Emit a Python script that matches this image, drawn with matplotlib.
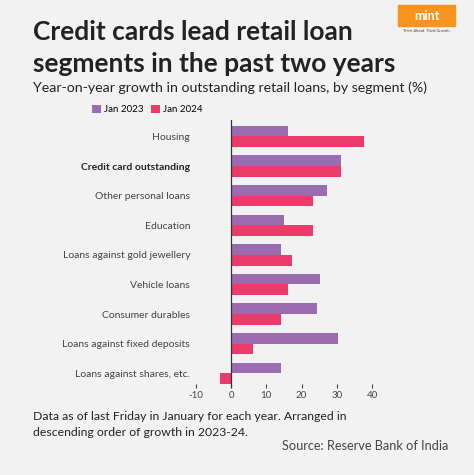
import matplotlib
matplotlib.use("Agg")
import matplotlib.pyplot as plt
import numpy as np

categories = ["Housing", "Credit card outstanding", "Other personal loans", "Education",
              "Loans against gold jewellery", "Vehicle loans", "Consumer durables",
              "Loans against fixed deposits", "Loans against shares, etc."]
jan2023 = [16.2, 31.3, 27.3, 15.1, 14.2, 25.3, 24.3, 30.4, 14.2]
jan2024 = [37.7, 31.3, 23.3, 23.3, 17.2, 16.2, 14.2, 6.2, -3.2]
xticks = [-10, 0, 10, 20, 30, 40]

bg = "#f2f2f2"
c23 = "#9b6bb0"
c24 = "#ec3a6b"
plt.rcParams['font.family'] = ['Lato', 'DejaVu Sans']
fig = plt.figure(figsize=(4.74, 4.75), dpi=100, facecolor=bg)
ax = fig.add_axes([0.413, 0.183, 0.372, 0.564], facecolor=bg)
y = np.arange(len(categories))
h = 0.36
ax.barh(y - h/2, jan2023, height=h, color=c23, label="Jan 2023")
ax.barh(y + h/2, jan2024, height=h, color=c24, label="Jan 2024")
ax.set_ylim(len(categories) - 0.5, -0.55)
ax.set_xlim(-10, 40)
ax.set_xticks(xticks)
ax.set_xticklabels([str(t) for t in xticks], fontsize=7, color="#444")
ax.set_yticks(y)
ax.set_yticklabels(categories, fontsize=7.5, color="#444")
for lab in ax.get_yticklabels():
    if lab.get_text() == "Credit card outstanding":
        lab.set_fontweight("bold"); lab.set_color("#222")
ax.tick_params(axis='y', length=0, pad=4)
ax.tick_params(axis='x', length=3, color="#444", direction='in', pad=2)
for s in ["top", "right", "bottom", "left"]:
    ax.spines[s].set_visible(False)
ax.axvline(0, color="#333", lw=0.9)
ax.legend(loc="lower left", bbox_to_anchor=(-0.62, 1.0), ncol=2, frameon=False,
          fontsize=7, handlelength=0.9, handleheight=0.9, columnspacing=0.8, handletextpad=0.3,
          borderaxespad=0.2)

fig.text(0.07, 0.915, "Credit cards lead retail loan", fontsize=19, fontweight="bold", color="#222")
fig.text(0.07, 0.848, "segments in the past two years", fontsize=19, fontweight="bold", color="#222")
fig.text(0.07, 0.806, "Year-on-year growth in outstanding retail loans, by segment (%)", fontsize=10.2, color="#222")
fig.text(0.07, 0.115, "Data as of last Friday in January for each year. Arranged in", fontsize=8.8, color="#222")
fig.text(0.07, 0.083, "descending order of growth in 2023-24.", fontsize=8.8, color="#222")
fig.text(0.945, 0.052, "Source: Reserve Bank of India", fontsize=9.2, color="#444", ha="right")
fig.patches.append(matplotlib.patches.Rectangle((0.84, 0.945), 0.12, 0.045, transform=fig.transFigure, color="#f7931e"))
fig.text(0.9, 0.967, "mint", fontsize=9, fontweight="bold", color="white", ha="center", va="center")
fig.text(0.9, 0.935, "Think Ahead. Think Growth.", fontsize=2.8, color="#444", ha="center", va="center")
fig.savefig("out.png", dpi=100, facecolor=bg)
